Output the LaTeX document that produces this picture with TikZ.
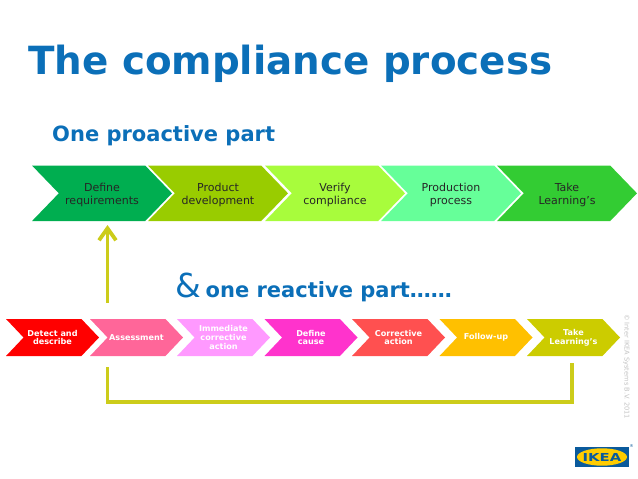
\documentclass[tikz,border=0pt]{standalone}
\usepackage{fontspec}
\setmainfont{DejaVu Sans}
\usetikzlibrary{shapes.symbols,arrows.meta}
\newcommand{\lowerstrut}{\rule{0pt}{11.8pt}}
\definecolor{titleblue}{HTML}{0B6FB8}
\definecolor{arrowy}{HTML}{CCCC1A}
\definecolor{ikeablue}{HTML}{0A5A9C}
\definecolor{ikeayellow}{HTML}{FFCC00}
\definecolor{ta}{HTML}{00AE50}
\definecolor{tb}{HTML}{99CC00}
\definecolor{tc}{HTML}{A8FC3C}
\definecolor{td}{HTML}{66FF99}
\definecolor{te}{HTML}{33CC33}
\definecolor{ba}{HTML}{FF0000}
\definecolor{bb}{HTML}{FF6699}
\definecolor{bc}{HTML}{FF99FF}
\definecolor{bd}{HTML}{FF33CC}
\definecolor{be}{HTML}{FF5050}
\definecolor{bf}{HTML}{FFC000}
\definecolor{bg}{HTML}{CCCC00}
\tikzset{
  bigchev/.style={shape=signal,signal to=east,signal from=west,signal pointer angle=92,
    minimum width=140pt,minimum height=55.5pt,inner sep=0pt,align=center,
    text=black!85,font=\fontsize{11}{13.3}\selectfont,fill=#1},
  smallchev/.style={shape=signal,signal to=east,signal from=west,signal pointer angle=93,
    minimum width=93pt,minimum height=37pt,inner sep=0pt,align=center,
    text=white,font=\bfseries\fontsize{8.1}{8.8}\selectfont,fill=#1},
  bluetext/.style={text=titleblue,anchor=base west,inner sep=0pt},
  flow/.style={draw=arrowy,line width=3.8pt},
}
\begin{document}
\begin{tikzpicture}[x=1pt,y=-1pt]
\useasboundingbox (0,0) rectangle (638,479);
\node[bluetext,font=\bfseries\fontsize{38.8}{40}\selectfont] (title) at (28,74) {The compliance process};
\node[bluetext,font=\bfseries\fontsize{21}{21}\selectfont] (pro) at (52,141) {One proactive part};
\node[bluetext,font=\fontsize{33}{33}\selectfont] (amp) at (175.5,297) {\&};
\node[bluetext,font=\bfseries\fontsize{21}{21}\selectfont] (rea) at (205.5,297) {one reactive part……};

\node[bigchev=ta] (t1) at (102,193.3) {\lowerstrut Define\\requirements};
\node[bigchev=tb] (t2) at (218,193.3) {\lowerstrut Product\\development};
\node[bigchev=tc] (t3) at (335,193.3) {\lowerstrut Verify\\compliance};
\node[bigchev=td] (t4) at (451,193.3) {\lowerstrut Production\\process};
\node[bigchev=te] (t5) at (567,193.3) {\lowerstrut Take\\Learning's};

\node[smallchev=ba] (b1) at (52.5,337.5) {Detect and\\describe};
\node[smallchev=bb] (b2) at (136.5,337.5) {Assessment};
\node[smallchev=bc] (b3) at (223.5,337.5) {Immediate\\corrective\\action};
\node[smallchev=bd] (b4) at (311,337.5) {Define\\cause};
\node[smallchev=be] (b5) at (398.5,337.5) {Corrective\\action};
\node[smallchev=bf] (b6) at (486,337.5) {Follow-up};
\node[smallchev=bg] (b7) at (573.5,337.5) {Take\\Learning's};

\coordinate (upfrom) at (107.5,303);
\coordinate (upto) at (107.5,225);
\draw[flow,-{Straight Barb[length=12pt,width=17pt,line width=3.8pt]}] (upfrom) -- (upto);
\coordinate (loopa) at (572,363);
\coordinate (loopb) at (107.5,367);
\draw[flow,line join=miter] (loopa) -- (572,402) -- (107.5,402) -- (loopb);

\node[rotate=-90,text=black!24,inner sep=0pt,font=\fontsize{6.6}{7}\selectfont] (copy) at (626.5,366.5) {© Inter IKEA Systems B.V. 2011};

\node[fill=ikeablue,minimum width=54pt,minimum height=20.5pt,inner sep=0pt] (logo) at (602,457) {};
\fill[ikeayellow] (logo.center) ellipse [x radius=25pt,y radius=8.7pt];
\node[text=ikeablue,inner sep=0pt,xscale=1.35,font=\bfseries\fontsize{11}{11}\selectfont] (ikea) at (logo.center) {IKEA};
\node[text=ikeablue,inner sep=0pt,font=\fontsize{4}{4}\selectfont,anchor=west] (reg) at (629.5,446) {®};
\end{tikzpicture}
\end{document}
